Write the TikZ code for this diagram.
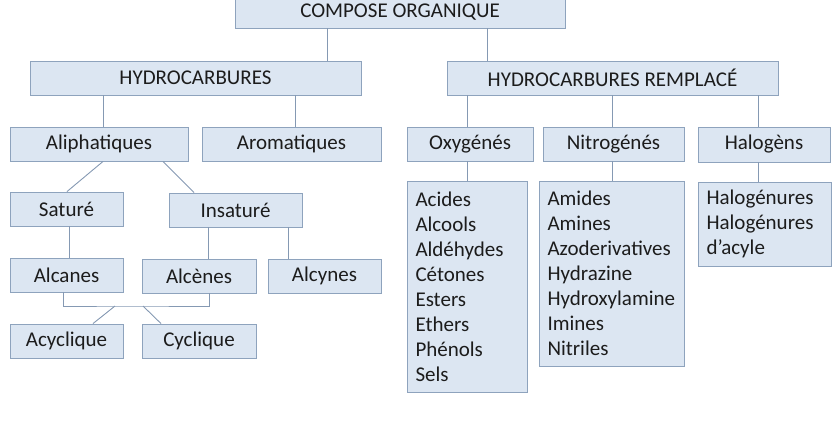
\documentclass[tikz,border=0pt]{standalone}
\usepackage{fontspec}
\setmainfont{Carlito}
\usetikzlibrary{positioning}
\definecolor{boxfill}{HTML}{DCE6F2}
\definecolor{boxline}{HTML}{8EA3BD}
\definecolor{linkline}{HTML}{8599B3}
\definecolor{inktext}{HTML}{1C1C1C}
\begin{document}
\begin{tikzpicture}[x=1pt,y=-1pt,
  font=\fontsize{21}{25}\selectfont,
  box/.style={rectangle,draw=boxline,fill=boxfill,line width=0.9pt,text=inktext,
    inner sep=0pt,minimum height=34pt},
  listbox/.style={box,align=left,inner xsep=8.5pt},
  link/.style={draw=linkline,line width=0.9pt}]
\useasboundingbox (0,0) rectangle (840,440);
% top level
\node (top) at (400,12) [box,minimum width=330pt,minimum height=32pt] {COMPOSE ORGANIQUE};
\node (hydro) at (195.5,78) [box,minimum width=331pt] {HYDROCARBURES};
\node (rempl) at (612.5,78) [box,minimum width=331pt] {HYDROCARBURES REMPLACÉ};
% hydrocarbures
\node (aliph) at (99,144) [box,minimum width=178pt] {Aliphatiques};
\node (arom) at (291.5,144) [box,minimum width=179pt] {Aromatiques};
\node (sat) at (66.5,209) [box,minimum width=113pt] {Saturé};
\node (insat) at (235.5,210) [box,minimum width=133pt] {Insaturé};
\node (alcanes) at (66.5,275) [box,minimum width=113pt] {Alcanes};
\node (alcenes) at (199,276) [box,minimum width=114pt] {Alcènes};
\node (alcynes) at (324.5,276) [box,minimum width=113pt] {Alcynes};
\node (acyc) at (66.5,341) [box,minimum width=113pt] {Acyclique};
\node (cyc) at (199,341) [box,minimum width=114pt] {Cyclique};
\coordinate (fork) at (129,306);
% hydrocarbures remplace
\node (oxy) at (470,144) [box,minimum width=126pt] {Oxygénés};
\node (nitro) at (613.5,144) [box,minimum width=141pt] {Nitrogénés};
\node (halo) at (764,144.5) [box,minimum width=132pt,minimum height=35pt] {Halogèns};
\node (oxylist) at (467,286.5) [listbox,text width=103pt,minimum height=211pt]
  {Acides\\Alcools\\Aldéhydes\\Cétones\\Esters\\Ethers\\Phénols\\Sels};
\node (nitrolist) at (611.5,273.5) [listbox,text width=128pt,minimum height=185pt]
  {Amides\\Amines\\Azoderivatives\\Hydrazine\\Hydroxylamine\\Imines\\Nitriles};
\node (halolist) at (764.5,224) [listbox,text width=116pt,minimum height=84pt]
  {Halogénures\\Halogénures\\d’acyle};
% connectors
\draw[link] (top.south -| 327,0) -- (hydro.north -| 327,0);
\draw[link] (top.south -| 487,0) -- (rempl.north -| 487,0);
\draw[link] (hydro.south -| 103,0) -- (aliph.north -| 103,0);
\draw[link] (hydro.south -| 295,0) -- (arom.north -| 295,0);
\draw[link] (aliph.south -| 103,0) -- (sat.north -| 67,0);
\draw[link] (aliph.south -| 163,0) -- (insat.north -| 194,0);
\draw[link] (sat.south -| 69,0) -- (alcanes.north -| 69,0);
\draw[link] (insat.south -| 208,0) -- (alcenes.north -| 208,0);
\draw[link] (insat.south -| 288,0) -- (alcynes.north -| 288,0);
\draw[link] (alcanes.south -| 63,0) |- (fork) -| (alcenes.south -| 209,0);
\draw[link] ([xshift=-14pt]fork) -- (acyc.north -| 93,0);
\draw[link] ([xshift=14pt]fork) -- (cyc.north -| 161,0);
\draw[link] (rempl.south -| 467,0) -- (oxy.north -| 467,0);
\draw[link] (rempl.south -| 612,0) -- (nitro.north -| 612,0);
\draw[link] (rempl.south -| 758,0) -- (halo.north -| 758,0);
\draw[link] (oxy.south -| 467,0) -- (oxylist.north -| 467,0);
\draw[link] (nitro.south -| 612,0) -- (nitrolist.north -| 612,0);
\draw[link] (halo.south -| 758,0) -- (halolist.north -| 758,0);
\end{tikzpicture}
\end{document}
